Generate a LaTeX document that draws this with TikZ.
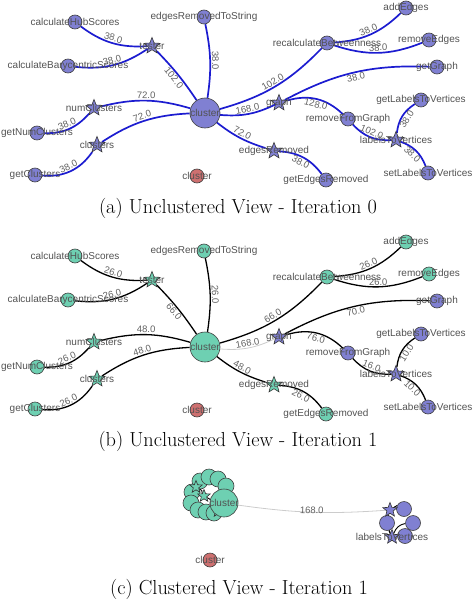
\documentclass[tikz,border=0pt]{standalone}
\usepackage{fontspec}
\newfontfamily\lblfont{Liberation Sans}
\usetikzlibrary{shapes.geometric}

\pgfdeclarelayer{edges}
\pgfsetlayers{edges,main}

\definecolor{vblue}{RGB}{128,128,210}
\definecolor{vgreen}{RGB}{110,208,178}
\definecolor{vred}{RGB}{206,112,112}
\definecolor{eblue}{RGB}{28,28,208}

\begin{document}
\begin{tikzpicture}[
    x=1pt, y=-1pt,
    % Define styles for vertices, labels and edges
    vtx/.style={circle, draw=black!75, line width=0.6pt, minimum size=14pt, inner sep=0pt},
    hubvtx/.style={vtx, minimum size=30pt},
    starvtx/.style={star, star points=5, star point ratio=2.3, draw=black!80, line width=0.6pt, minimum size=17pt, inner sep=0pt},
    bluenode/.style={fill=vblue},
    greennode/.style={fill=vgreen},
    rednode/.style={fill=vred},
    lbl/.style={font=\lblfont\fontsize{10}{12}\selectfont, text=black!68, inner sep=0pt},
    wt/.style={font=\lblfont\fontsize{9.5}{11}\selectfont, text=black!62, sloped, above, inner sep=1pt},
    wtb/.style={wt, below},
    bluee/.style={draw=eblue, line width=1.7pt},
    blacke/.style={draw=black, line width=1.3pt},
    faint/.style={draw=black!20, line width=0.8pt},
    caption/.style={font=\fontsize{20.3}{24}\selectfont}
]
\useasboundingbox (0,0) rectangle (474,602);

    % --- (a) UNCLUSTERED VIEW - ITERATION 0 ---
    \node[vtx, bluenode, label={[lbl]center:calculateHubScores}] (hubA) at (75,22) {};
    \node[vtx, bluenode, label={[lbl]center:calculateBarycentricScores}] (baryA) at (68,66) {};
    \node[starvtx, bluenode, label={[lbl]center:tester}] (testerA) at (152,46) {};
    \node[vtx, bluenode, label={[lbl]center:edgesRemovedToString}] (ertsA) at (204,17) {};
    \node[hubvtx, bluenode, label={[lbl]center:cluster}] (clusterA) at (205,113) {};
    \node[starvtx, bluenode, label={[lbl]center:numClusters}] (numA) at (94,108) {};
    \node[vtx, bluenode, label={[lbl]center:getNumClusters}] (getnumA) at (37,133) {};
    \node[starvtx, bluenode, label={[lbl]center:clusters}] (clustersA) at (97,145) {};
    \node[vtx, bluenode, label={[lbl]center:getClusters}] (getclA) at (35,175) {};
    \node[vtx, rednode, label={[lbl]center:cluster}] (loneA) at (197,176) {};
    \node[vtx, bluenode, label={[lbl]center:recalculateBetweenness}] (recalcA) at (327,43) {};
    \node[vtx, bluenode, label={[lbl]center:addEdges}] (addA) at (406,8) {};
    \node[vtx, bluenode, label={[lbl]center:removeEdges}] (remA) at (429,40) {};
    \node[vtx, bluenode, label={[lbl]center:getGraph}] (getgA) at (437,67) {};
    \node[starvtx, bluenode, label={[lbl]center:graph}] (graphA) at (279,103) {};
    \node[vtx, bluenode, label={[lbl]center:getLabelsToVertices}] (getlblA) at (421,100) {};
    \node[vtx, bluenode, label={[lbl]center:removeFromGraph}] (rfgA) at (348,119) {};
    \node[starvtx, bluenode, label={[lbl]center:labelsToVertices}] (lblA) at (396,140) {};
    \node[vtx, bluenode, label={[lbl]center:setLabelsToVertices}] (setlblA) at (428,173) {};
    \node[starvtx, bluenode, label={[lbl]center:edgesRemoved}] (erA) at (274,151) {};
    \node[vtx, bluenode, label={[lbl]center:getEdgesRemoved}] (geterA) at (326,180) {};

    \begin{pgfonlayer}{edges}
    \draw[bluee] (hubA) to[bend right=20] node[wt]{38.0} (testerA);
    \draw[bluee] (baryA) to[bend right=20] node[wt]{38.0} (testerA);
    \draw[bluee] (testerA) to[bend left=5] node[wtb]{102.0} (clusterA);
    \draw[bluee] (ertsA) to[bend left=10] node[wt]{38.0} (clusterA);
    \draw[bluee] (clusterA) to[bend right=15] node[wt]{102.0} (recalcA);
    \draw[bluee] (recalcA) to[bend right=20] node[wt]{38.0} (addA);
    \draw[bluee] (recalcA) to[bend right=20] node[wt]{38.0} (remA);
    \draw[bluee] (graphA) to[bend left=15] node[wtb]{38.0} (getgA);
    \draw[bluee] (clusterA) to[bend right=15] node[wt]{168.0} (graphA);
    \draw[bluee] (graphA) to[bend left=30] node[wtb]{128.0} (rfgA);
    \draw[bluee] (rfgA) to[bend right=25] node[wt]{102.0} (lblA);
    \draw[bluee] (getlblA) to[bend right=25] node[wtb]{38.0} (lblA);
    \draw[bluee] (lblA) to[bend left=25] node[wtb]{38.0} (setlblA);
    \draw[bluee] (clusterA) to[bend right=10] node[wt]{72.0} (erA);
    \draw[bluee] (erA) to[bend left=25] node[wtb]{38.0} (geterA);
    \draw[bluee] (clusterA) to[bend right=15] node[wt]{72.0} (numA);
    \draw[bluee] (clusterA) to[bend right=15] node[wt]{72.0} (clustersA);
    \draw[bluee] (numA) to[bend left=25] node[wt]{38.0} (getnumA);
    \draw[bluee] (clustersA) to[bend left=30] node[wt]{38.0} (getclA);
    \end{pgfonlayer}

    \node[caption] (capA) at (238,208) {(a) Unclustered View - Iteration 0};

    % --- (b) UNCLUSTERED VIEW - ITERATION 1 ---
    \begin{scope}[yshift=-234pt]
    \node[vtx, greennode, label={[lbl]center:calculateHubScores}] (hubB) at (75,22) {};
    \node[vtx, greennode, label={[lbl]center:calculateBarycentricScores}] (baryB) at (68,66) {};
    \node[starvtx, greennode, label={[lbl]center:tester}] (testerB) at (152,46) {};
    \node[vtx, greennode, label={[lbl]center:edgesRemovedToString}] (ertsB) at (204,17) {};
    \node[hubvtx, greennode, label={[lbl]center:cluster}] (clusterB) at (205,113) {};
    \node[starvtx, greennode, label={[lbl]center:numClusters}] (numB) at (94,108) {};
    \node[vtx, greennode, label={[lbl]center:getNumClusters}] (getnumB) at (37,133) {};
    \node[starvtx, greennode, label={[lbl]center:clusters}] (clustersB) at (97,145) {};
    \node[vtx, greennode, label={[lbl]center:getClusters}] (getclB) at (35,175) {};
    \node[vtx, rednode, label={[lbl]center:cluster}] (loneB) at (197,176) {};
    \node[vtx, greennode, label={[lbl]center:recalculateBetweenness}] (recalcB) at (327,43) {};
    \node[vtx, greennode, label={[lbl]center:addEdges}] (addB) at (406,8) {};
    \node[vtx, greennode, label={[lbl]center:removeEdges}] (remB) at (429,40) {};
    \node[vtx, bluenode, label={[lbl]center:getGraph}] (getgB) at (437,67) {};
    \node[starvtx, bluenode, label={[lbl]center:graph}] (graphB) at (279,103) {};
    \node[vtx, bluenode, label={[lbl]center:getLabelsToVertices}] (getlblB) at (421,100) {};
    \node[vtx, bluenode, label={[lbl]center:removeFromGraph}] (rfgB) at (348,119) {};
    \node[starvtx, bluenode, label={[lbl]center:labelsToVertices}] (lblB) at (396,140) {};
    \node[vtx, bluenode, label={[lbl]center:setLabelsToVertices}] (setlblB) at (428,173) {};
    \node[starvtx, greennode, label={[lbl]center:edgesRemoved}] (erB) at (274,151) {};
    \node[vtx, greennode, label={[lbl]center:getEdgesRemoved}] (geterB) at (326,180) {};

    \begin{pgfonlayer}{edges}
    \draw[blacke] (hubB) to[bend right=20] node[wt]{26.0} (testerB);
    \draw[blacke] (baryB) to[bend right=20] node[wt]{26.0} (testerB);
    \draw[blacke] (testerB) to[bend left=5] node[wtb]{66.0} (clusterB);
    \draw[blacke] (ertsB) to[bend left=10] node[wt]{26.0} (clusterB);
    \draw[blacke] (clusterB) to[bend right=15] node[wt]{66.0} (recalcB);
    \draw[blacke] (recalcB) to[bend right=20] node[wt]{26.0} (addB);
    \draw[blacke] (recalcB) to[bend right=20] node[wt]{26.0} (remB);
    \draw[blacke] (graphB) to[bend left=15] node[wtb]{70.0} (getgB);
    \draw[faint] (clusterB) to[bend right=15] node[wt]{168.0} (graphB);
    \draw[blacke] (graphB) to[bend left=30] node[wtb]{76.0} (rfgB);
    \draw[blacke] (rfgB) to[bend right=25] node[wt]{16.0} (lblB);
    \draw[blacke] (getlblB) to[bend right=25] node[wtb]{10.0} (lblB);
    \draw[blacke] (lblB) to[bend left=25] node[wtb]{10.0} (setlblB);
    \draw[blacke] (clusterB) to[bend right=10] node[wt]{48.0} (erB);
    \draw[blacke] (erB) to[bend left=25] node[wtb]{26.0} (geterB);
    \draw[blacke] (clusterB) to[bend right=15] node[wt]{48.0} (numB);
    \draw[blacke] (clusterB) to[bend right=15] node[wt]{48.0} (clustersB);
    \draw[blacke] (numB) to[bend left=25] node[wt]{26.0} (getnumB);
    \draw[blacke] (clustersB) to[bend left=30] node[wt]{26.0} (getclB);
    \end{pgfonlayer}
    \end{scope}

    \node[caption] (capB) at (238,441) {(b) Unclustered View - Iteration 1};

    % --- (c) CLUSTERED VIEW - ITERATION 1 ---
    % green cluster: ring of collapsed vertices
    \node[vtx, greennode, minimum size=16pt] (g1) at (200,481) {};
    \node[vtx, greennode, minimum size=16pt] (g2) at (209,477) {};
    \node[vtx, greennode, minimum size=16pt] (g3) at (218,479) {};
    \node[vtx, greennode, minimum size=16pt] (g4) at (226,486) {};
    \node[vtx, greennode, minimum size=16pt] (g5) at (192,492) {};
    \node[vtx, greennode, minimum size=16pt] (g6) at (191,503) {};
    \node[vtx, greennode, minimum size=16pt] (g7) at (198,510) {};
    \node[vtx, greennode, minimum size=16pt] (g8) at (206,512) {};
    \node[vtx, greennode, minimum size=16pt] (g9) at (214,513) {};
    \node[starvtx, greennode, minimum size=13pt] (gs1) at (196,487) {};
    \node[starvtx, greennode, minimum size=13pt] (gs2) at (204,496) {};
    \node[starvtx, greennode, minimum size=13pt] (gs3) at (218,511) {};
    \node[vtx, greennode, minimum size=28pt, label={[lbl]center:cluster}] (clusterC) at (224,503) {};

    % blue cluster
    \node[vtx, bluenode, minimum size=15pt] (b1) at (404,509) {};
    \node[vtx, bluenode, minimum size=15pt] (b2) at (413,523) {};
    \node[vtx, bluenode, minimum size=15pt] (b3) at (405,536) {};
    \node[vtx, bluenode, minimum size=15pt] (b4) at (387,523) {};
    \node[starvtx, bluenode, minimum size=15pt] (bs1) at (390,510) {};
    \node[starvtx, bluenode, minimum size=15pt, label={[lbl]center:labelsToVertices}] (lblC) at (392,537) {};

    \node[vtx, rednode, label={[lbl]center:cluster}] (loneC) at (210,560) {};

    \begin{pgfonlayer}{edges}
    \draw[faint] (clusterC) to[bend right=6] node[wt, above=-3pt]{168.0} (bs1);
    \draw[black, line width=0.9pt] (gs1) to[bend left=30] (g3);
    \draw[black, line width=0.9pt] (gs2) to[bend right=30] (g6);
    \draw[black, line width=0.9pt] (gs2) to[bend left=20] (gs3);
    \draw[black, line width=0.9pt] (g5) to[bend left=40] (gs2);
    \draw[black, line width=0.9pt] (bs1) to[bend left=30] (b1);
    \draw[black, line width=0.9pt] (bs1) to[bend right=20] (lblC);
    \draw[black, line width=0.9pt] (lblC) to[bend left=30] (b2);
    \draw[black, line width=0.9pt] (b4) to[bend right=40] (b3);
    \end{pgfonlayer}

    \node[caption] (capC) at (239,589) {(c) Clustered View - Iteration 1};

\end{tikzpicture}
\end{document}
